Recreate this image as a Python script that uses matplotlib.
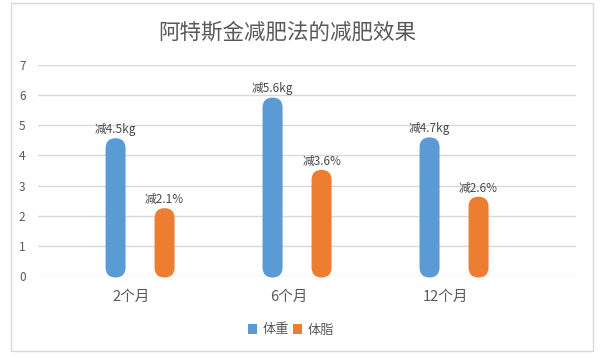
import matplotlib
matplotlib.use("Agg")
import matplotlib.pyplot as plt
from matplotlib.patches import FancyBboxPatch, Patch, Rectangle

plt.rcParams['font.family'] = ['Noto Sans CJK SC', 'DejaVu Sans']

title = "阿特斯金减肥法的减肥效果"
categories = ["2个月", "6个月", "12个月"]
series_names = ["体重", "体脂"]
weight_values = [4.57, 5.92, 4.60]
fat_values = [2.25, 3.52, 2.63]
weight_labels = ["减4.5kg", "减5.6kg", "减4.7kg"]
fat_labels = ["减2.1%", "减3.6%", "减2.6%"]
yticks = [0, 1, 2, 3, 4, 5, 6, 7]

BLUE = "#5B9BD5"
ORANGE = "#ED7D31"
TEXT = "#595959"
LABEL = "#4A4A4A"
GRID = "#D9D9D9"

W, H = 600, 358
fig = plt.figure(figsize=(W / 100, H / 100), dpi=100)
fig.patch.set_facecolor("white")

# axes placement in pixels
ax_l, ax_r, ax_top, ax_bot = 38, 576, 65, 276
ax = fig.add_axes([ax_l / W, 1 - ax_bot / H, (ax_r - ax_l) / W, (ax_bot - ax_top) / H])

xlim = (-0.596, 2.831)
ylim = (0, 7)
ax.set_xlim(*xlim)
ax.set_ylim(*ylim)

x_upp = (xlim[1] - xlim[0]) / (ax_r - ax_l)
y_upp = (ylim[1] - ylim[0]) / (ax_bot - ax_top)

bar_w = 20 * x_upp
off_blue = -16 * x_upp
off_orange = 33 * x_upp
aspect = y_upp / x_upp
base = -1.5 * y_upp

def rounded_bar(xc, h, color):
    p = FancyBboxPatch((xc - bar_w / 2, base), bar_w, h - base,
                       boxstyle=f"round,pad=0,rounding_size={bar_w / 2}",
                       mutation_aspect=aspect, facecolor=color,
                       edgecolor="none", zorder=3, clip_on=False)
    ax.add_patch(p)

for i, (wv, fv) in enumerate(zip(weight_values, fat_values)):
    xb = i + off_blue
    xo = i + off_orange
    rounded_bar(xb, wv, BLUE)
    rounded_bar(xo, fv, ORANGE)
    ax.annotate(weight_labels[i], (xb, wv), xytext=(0, 1.5), textcoords="offset points",
                ha="center", va="bottom", fontsize=8.5, color=LABEL, zorder=4)
    ax.annotate(fat_labels[i], (xo, fv), xytext=(0, 1.5), textcoords="offset points",
                ha="center", va="bottom", fontsize=8.5, color=LABEL, zorder=4)

ax.set_yticks(yticks)
ax.set_yticklabels([str(v) for v in yticks])
ax.set_xticks(range(len(categories)))
ax.set_xticklabels(categories)
ax.tick_params(axis="y", length=0, pad=9, labelsize=8.5, labelcolor=TEXT)
ax.tick_params(axis="x", length=0, pad=10, labelsize=10.5, labelcolor=TEXT)
ax.grid(axis="y", color=GRID, linewidth=1.0, zorder=0)
ax.set_axisbelow(True)
for s in ax.spines.values():
    s.set_visible(False)
ax.set_facecolor("none")

fig.text(287 / W, 1 - 33 / H, title, ha="center", va="center",
         fontsize=15.5, color=TEXT)

handles = [Patch(facecolor=BLUE, edgecolor="none"), Patch(facecolor=ORANGE, edgecolor="none")]
fig.legend(handles, series_names, loc="center", bbox_to_anchor=(291 / W, 1 - 330 / H),
           ncol=2, frameon=False, fontsize=9.5, handlelength=0.7, handleheight=0.7,
           handletextpad=0.4, columnspacing=0.3, labelcolor=TEXT)

fig.patches.append(Rectangle((11 / W, 1 - 351 / H), (593 - 11) / W, (351 - 3) / H,
                             transform=fig.transFigure, fill=False,
                             edgecolor=GRID, linewidth=1.0))

fig.savefig("out.png", dpi=100)
